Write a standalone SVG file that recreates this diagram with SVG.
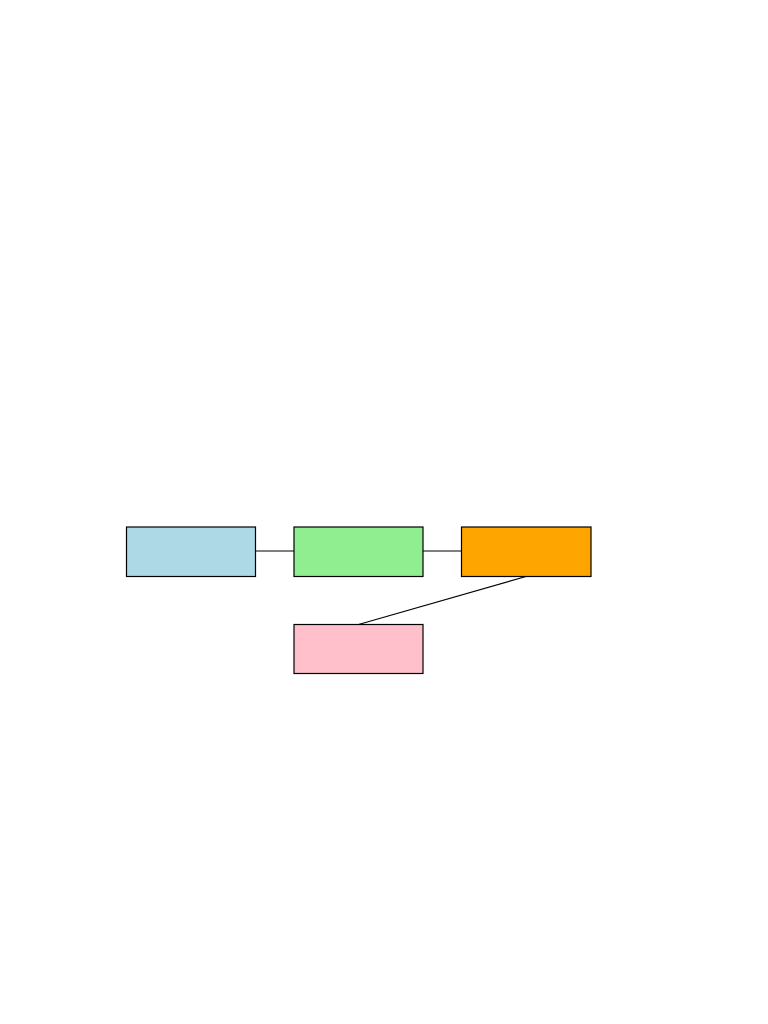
<svg xmlns="http://www.w3.org/2000/svg" width="768" height="1024" viewBox="0 0 768 1024">
<style>
.box{stroke:#000;stroke-width:1.2}
.edge{stroke:#000;stroke-width:1.2;fill:none}
</style>
<rect width="768" height="1024" fill="#fff"/>
<g id="connectors">
<line class="edge" x1="255.5" y1="551" x2="294" y2="551"/>
<line class="edge" x1="423" y1="551" x2="461.5" y2="551"/>
<line class="edge" x1="526" y1="576.5" x2="358.5" y2="624.5"/>
</g>
<g id="node-blue"><rect class="box" x="126.5" y="527" width="129" height="49.5" fill="#ADD8E6"/></g>
<g id="node-green"><rect class="box" x="294" y="527" width="129" height="49.5" fill="#90EE90"/></g>
<g id="node-orange"><rect class="box" x="461.5" y="527" width="129.5" height="49.5" fill="#FFA500"/></g>
<g id="node-pink"><rect class="box" x="294" y="624.5" width="129" height="49" fill="#FFC0CB"/></g>
</svg>
